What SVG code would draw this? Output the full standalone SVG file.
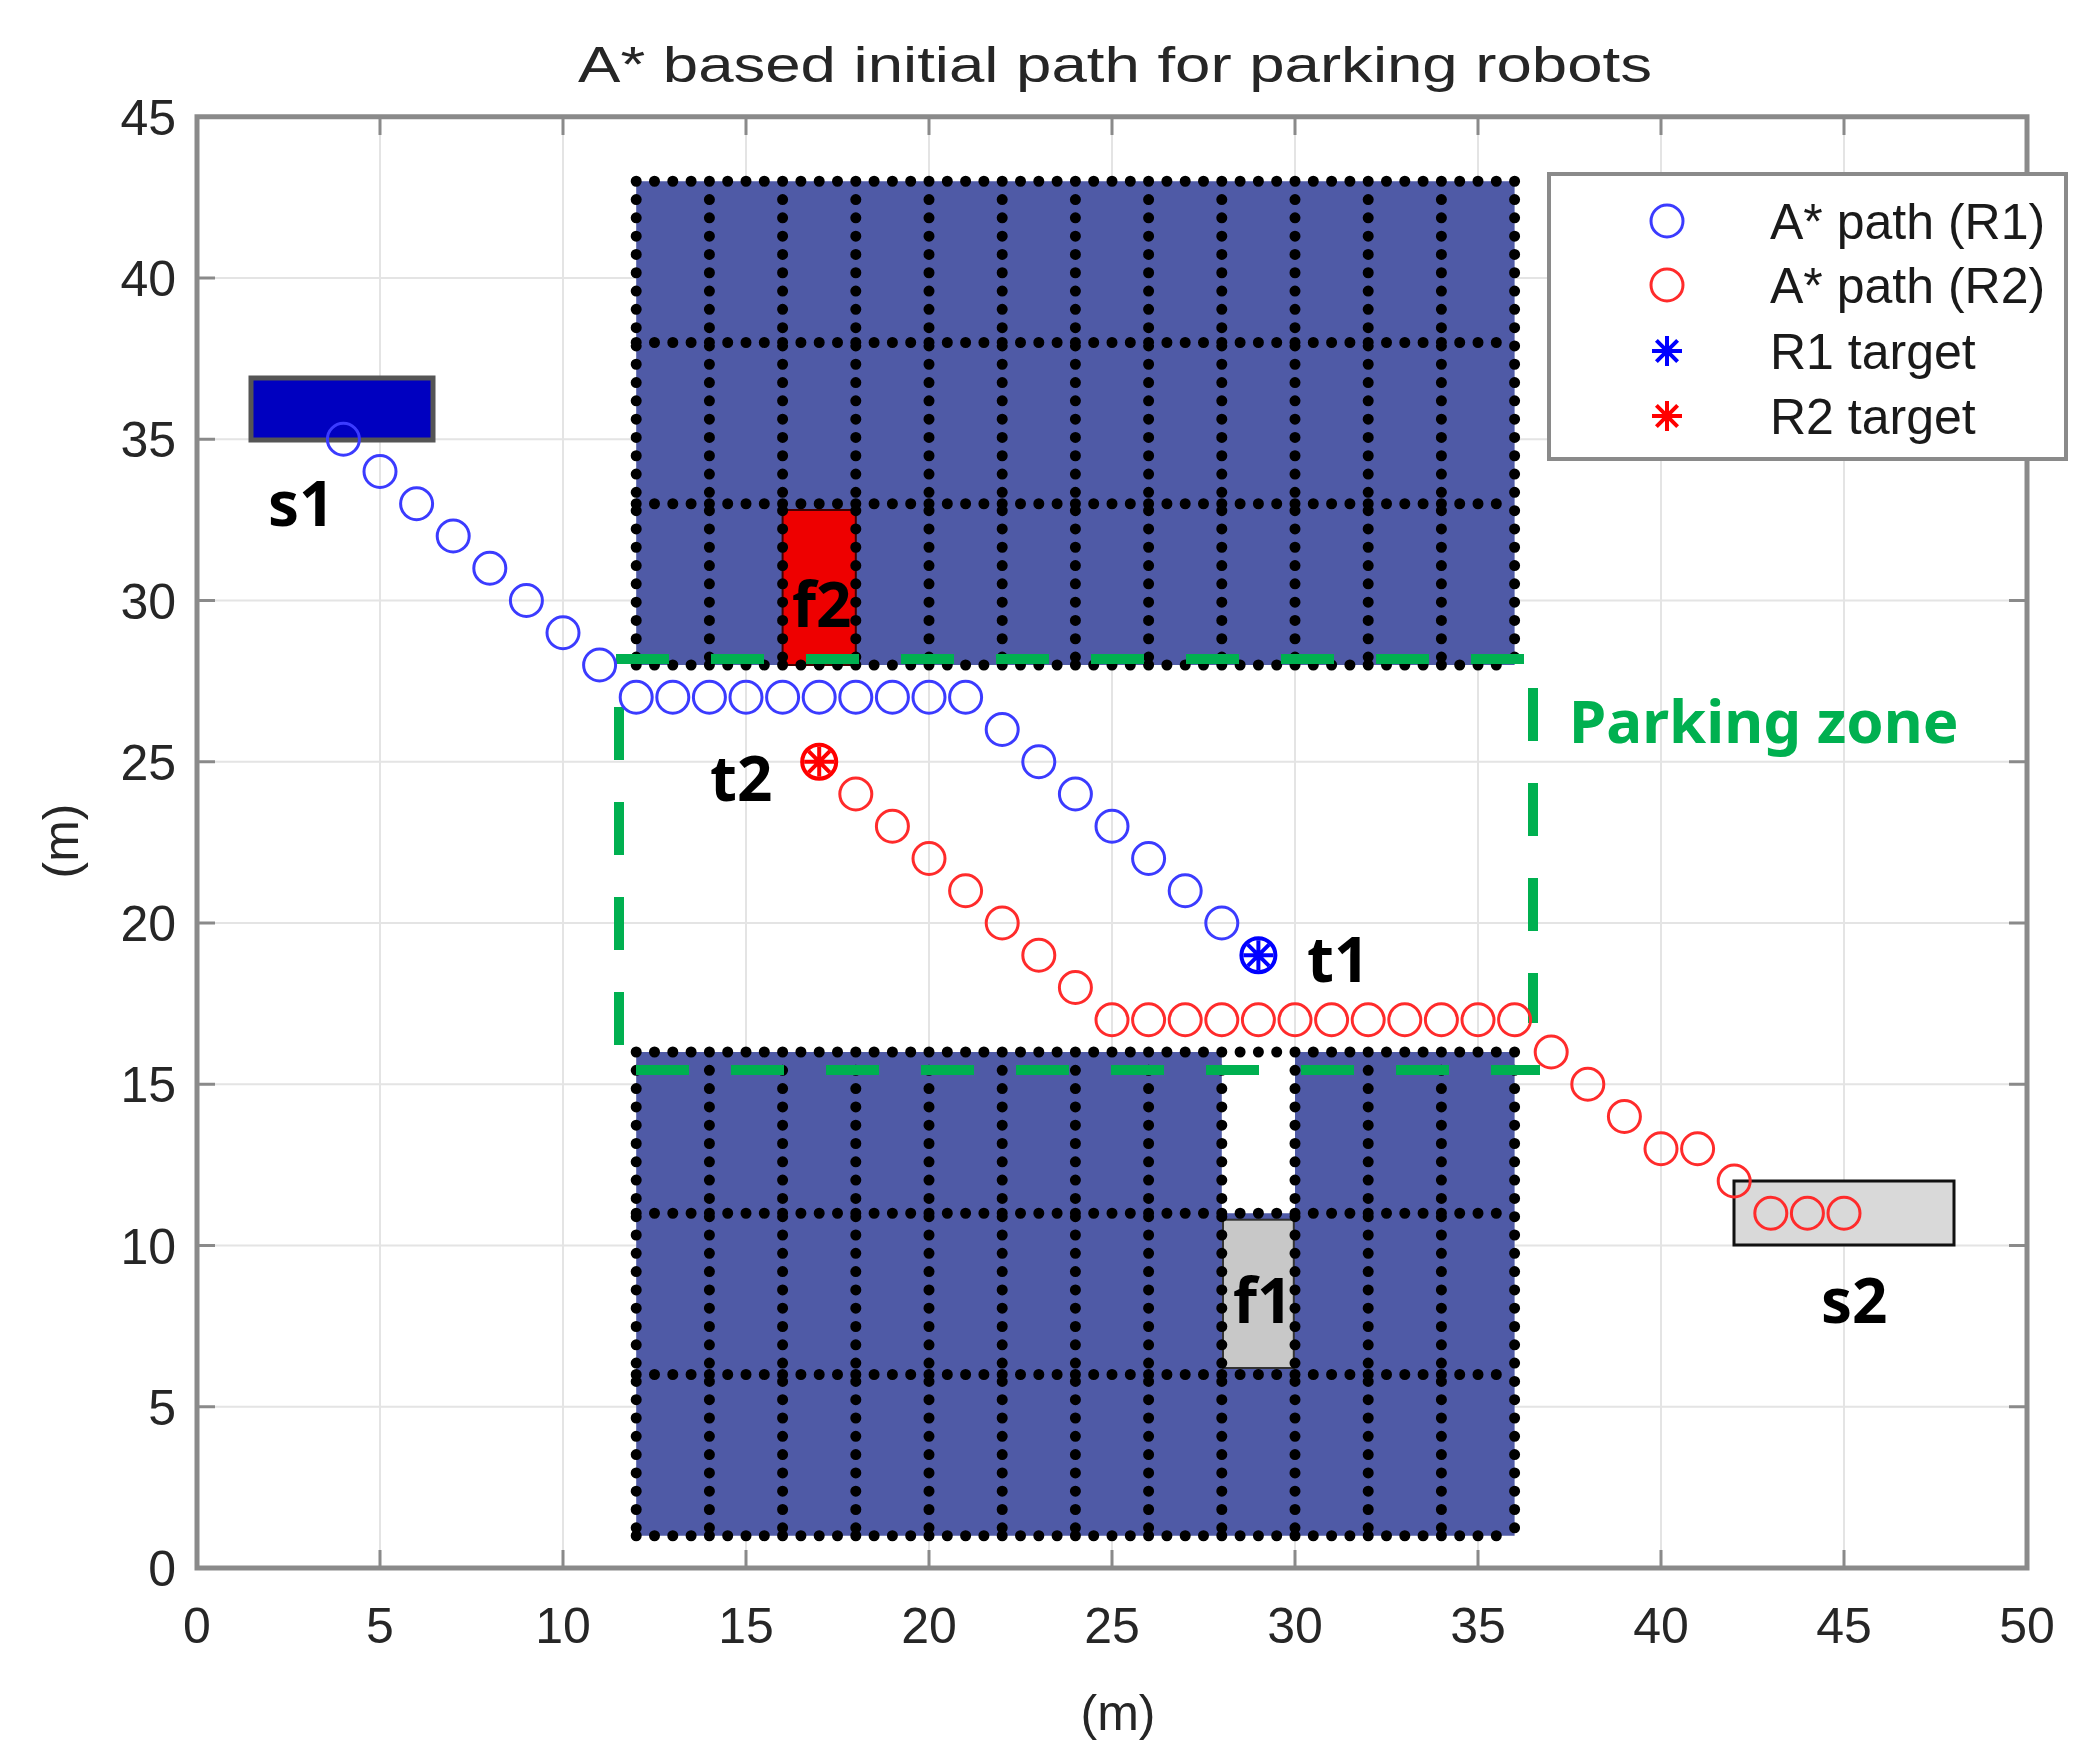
<svg xmlns="http://www.w3.org/2000/svg" xmlns:xlink="http://www.w3.org/1999/xlink" width="2089" height="1764" viewBox="0 0 2089 1764">
<style>
.grid{stroke:#e4e4e4;stroke-width:2;fill:none}
.axis{stroke:#8a8a8a;stroke-width:5;fill:none}
.tick{font-family:"Liberation Sans",Arial,sans-serif;font-size:50px;fill:#262626}
.dots{stroke:#000;stroke-width:11;stroke-linecap:round;stroke-dasharray:0 18.3;fill:none}
.blk{fill:#4f5aa6}
.b{fill:none;stroke:#3b3bff;stroke-width:3}
.r{fill:none;stroke:#ff2b2b;stroke-width:3}
.lbl{font-family:"Noto Sans","DejaVu Sans",sans-serif;font-weight:bold;font-size:62px;fill:#000}
.zone{fill:none;stroke:#00b050;stroke-width:10;stroke-dasharray:53 42}
.leg{font-family:"Liberation Sans",Arial,sans-serif;font-size:50px;fill:#1a1a1a}
</style>
<defs>
<g id="star"><path d="M-15,0H15M0,-15V15M-10.6,-10.6L10.6,10.6M-10.6,10.6L10.6,-10.6" stroke-width="4"/></g>
</defs>
<rect width="2089" height="1764" fill="#fff"/>
<g id="grid" class="grid">
<path d="M380,117V1568M563,117V1568M746,117V1568M929,117V1568M1112,117V1568M1295,117V1568M1478,117V1568M1661,117V1568M1844,117V1568M197,1406.75H2027M197,1245.5H2027M197,1084.25H2027M197,923H2027M197,761.75H2027M197,600.5H2027M197,439.25H2027M197,278H2027"/>
</g>
<g id="axes">
<rect class="axis" x="197" y="116.75" width="1830" height="1451.25"/>
<path stroke="#8a8a8a" stroke-width="3" d="M380,1568v-18M563,1568v-18M746,1568v-18M929,1568v-18M1112,1568v-18M1295,1568v-18M1478,1568v-18M1661,1568v-18M1844,1568v-18M380,117v18M563,117v18M746,117v18M929,117v18M1112,117v18M1295,117v18M1478,117v18M1661,117v18M1844,117v18M197,1406.75h18M197,1245.5h18M197,1084.25h18M197,923h18M197,761.75h18M197,600.5h18M197,439.25h18M197,278h18M2027,1406.75h-18M2027,1245.5h-18M2027,1084.25h-18M2027,923h-18M2027,761.75h-18M2027,600.5h-18M2027,439.25h-18M2027,278h-18"/>
<g class="tick" text-anchor="middle">
<text x="197" y="1643">0</text><text x="380" y="1643">5</text><text x="563" y="1643">10</text><text x="746" y="1643">15</text><text x="929" y="1643">20</text><text x="1112" y="1643">25</text><text x="1295" y="1643">30</text><text x="1478" y="1643">35</text><text x="1661" y="1643">40</text><text x="1844" y="1643">45</text><text x="2027" y="1643">50</text>
</g>
<g class="tick" text-anchor="end">
<text x="176" y="1586">0</text><text x="176" y="1425">5</text><text x="176" y="1264">10</text><text x="176" y="1102">15</text><text x="176" y="941">20</text><text x="176" y="780">25</text><text x="176" y="619">30</text><text x="176" y="457">35</text><text x="176" y="296">40</text><text x="176" y="135">45</text>
</g>
<text class="tick" x="578" y="82" font-size="64" textLength="1074" lengthAdjust="spacingAndGlyphs">A* based initial path for parking robots</text>
<text class="tick" x="1118" y="1730" text-anchor="middle" font-size="54">(m)</text>
<text class="tick" x="0" y="0" text-anchor="middle" font-size="54" transform="translate(78,841) rotate(-90)">(m)</text>
</g>
<g id="top-block">
<rect class="blk" x="636.2" y="181.25" width="878.4" height="483.75"/>
<rect x="782.6" y="510" width="73.2" height="155" fill="#ee0000" stroke="#400" stroke-width="2"/>
<path class="dots" d="M636.2,181.25V665M709.4,181.25V665M782.6,181.25V665M855.8,181.25V665M929,181.25V665M1002.2,181.25V665M1075.4,181.25V665M1148.6,181.25V665M1221.8,181.25V665M1295,181.25V665M1368.2,181.25V665M1441.4,181.25V665M1514.6,181.25V665M636.2,181.25H1514.6M636.2,342.5H1514.6M636.2,503.75H1514.6M636.2,665H1514.6"/>
</g>
<g id="bottom-block">
<rect class="blk" x="636.2" y="1052" width="878.4" height="483.75"/>
<rect x="1221.8" y="1052" width="73.2" height="161.25" fill="#fff"/>
<rect x="1223" y="1219.7" width="70.8" height="148.3" fill="#c8c8c8" stroke="#333" stroke-width="2"/>
<path class="dots" d="M636.2,1052V1535.75M709.4,1052V1535.75M782.6,1052V1535.75M855.8,1052V1535.75M929,1052V1535.75M1002.2,1052V1535.75M1075.4,1052V1535.75M1148.6,1052V1535.75M1221.8,1052V1535.75M1295,1052V1535.75M1368.2,1052V1535.75M1441.4,1052V1535.75M1514.6,1052V1535.75M636.2,1052H1514.6M636.2,1213.25H1514.6M636.2,1374.5H1514.6M636.2,1535.75H1514.6"/>
</g>
<g id="s1"><rect x="251" y="378" width="182" height="62" fill="#0000c0" stroke="#555" stroke-width="5"/></g>
<g id="s2"><rect x="1734" y="1181" width="220" height="64" fill="#d9d9d9" stroke="#111" stroke-width="3"/></g>
<g id="parking-zone" class="zone">
<path d="M616,659H1526"/>
<path d="M636,1070H1540"/>
<path d="M619,707V1048"/>
<path d="M1533,688V1023"/>
</g>
<g id="path-r1" class="b">
<circle cx="343.4" cy="439.25" r="16"/><circle cx="380" cy="471.5" r="16"/><circle cx="416.6" cy="503.75" r="16"/><circle cx="453.2" cy="536" r="16"/><circle cx="489.8" cy="568.25" r="16"/><circle cx="526.4" cy="600.5" r="16"/><circle cx="563" cy="632.75" r="16"/><circle cx="599.6" cy="665" r="16"/>
<circle cx="636.2" cy="697.25" r="16"/><circle cx="672.8" cy="697.25" r="16"/><circle cx="709.4" cy="697.25" r="16"/><circle cx="746" cy="697.25" r="16"/><circle cx="782.6" cy="697.25" r="16"/><circle cx="819.2" cy="697.25" r="16"/><circle cx="855.8" cy="697.25" r="16"/><circle cx="892.4" cy="697.25" r="16"/><circle cx="929" cy="697.25" r="16"/><circle cx="965.6" cy="697.25" r="16"/>
<circle cx="1002.2" cy="729.5" r="16"/><circle cx="1038.8" cy="761.75" r="16"/><circle cx="1075.4" cy="794" r="16"/><circle cx="1112" cy="826.25" r="16"/><circle cx="1148.6" cy="858.5" r="16"/><circle cx="1185.2" cy="890.75" r="16"/><circle cx="1221.8" cy="923" r="16"/>
</g>
<g id="path-r2" class="r">
<circle cx="855.8" cy="794" r="16"/><circle cx="892.4" cy="826.25" r="16"/><circle cx="929" cy="858.5" r="16"/><circle cx="965.6" cy="890.75" r="16"/><circle cx="1002.2" cy="923" r="16"/><circle cx="1038.8" cy="955.25" r="16"/><circle cx="1075.4" cy="987.5" r="16"/>
<circle cx="1112" cy="1019.75" r="16"/><circle cx="1148.6" cy="1019.75" r="16"/><circle cx="1185.2" cy="1019.75" r="16"/><circle cx="1221.8" cy="1019.75" r="16"/><circle cx="1258.4" cy="1019.75" r="16"/><circle cx="1295" cy="1019.75" r="16"/><circle cx="1331.6" cy="1019.75" r="16"/><circle cx="1368.2" cy="1019.75" r="16"/><circle cx="1404.8" cy="1019.75" r="16"/><circle cx="1441.4" cy="1019.75" r="16"/><circle cx="1478" cy="1019.75" r="16"/><circle cx="1514.6" cy="1019.75" r="16"/>
<circle cx="1551.2" cy="1052" r="16"/><circle cx="1587.8" cy="1084.25" r="16"/><circle cx="1624.4" cy="1116.5" r="16"/><circle cx="1661" cy="1148.75" r="16"/><circle cx="1697.6" cy="1148.75" r="16"/><circle cx="1734.2" cy="1181" r="16"/><circle cx="1770.8" cy="1213.25" r="16"/><circle cx="1807.4" cy="1213.25" r="16"/><circle cx="1844" cy="1213.25" r="16"/>
</g>
<g id="t1-target">
<circle cx="1258.4" cy="955.25" r="17" fill="none" stroke="#0000ff" stroke-width="4"/>
<use xlink:href="#star" href="#star" x="1258.4" y="955.25" stroke="#0000ff"/>
</g>
<g id="t2-target">
<circle cx="819.2" cy="761.75" r="17" fill="none" stroke="#ff0000" stroke-width="4"/>
<use xlink:href="#star" href="#star" x="819.2" y="761.75" stroke="#ff0000"/>
</g>
<g id="labels" class="lbl">
<text x="268" y="526">s1</text>
<text x="710" y="801">t2</text>
<text x="792" y="627">f2</text>
<text x="1233" y="1323">f1</text>
<text x="1307" y="982">t1</text>
<text x="1821" y="1323">s2</text>
<text x="1569" y="743" fill="#00b050" font-size="60">Parking zone</text>
</g>
<g id="legend">
<rect x="1549" y="174" width="517" height="285" fill="#fff" stroke="#8a8a8a" stroke-width="4"/>
<circle cx="1667" cy="221" r="16" class="b"/>
<circle cx="1667" cy="285" r="16" class="r"/>
<use xlink:href="#star" href="#star" x="1667" y="351" stroke="#0000ff"/>
<use xlink:href="#star" href="#star" x="1667" y="416" stroke="#ff0000"/>
<text class="leg" x="1770" y="239">A* path (R1)</text>
<text class="leg" x="1770" y="303">A* path (R2)</text>
<text class="leg" x="1770" y="369">R1 target</text>
<text class="leg" x="1770" y="434">R2 target</text>
</g>
</svg>
